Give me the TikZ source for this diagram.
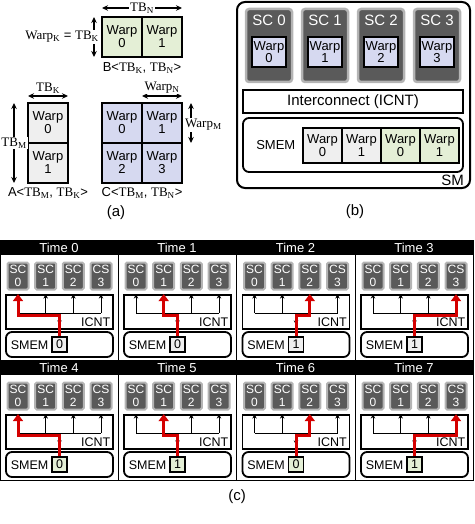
\documentclass[tikz,border=0pt]{standalone}
\usepackage{fontspec}
\setmainfont{Liberation Sans}
\newfontfamily\tbfont{Liberation Serif}
\usetikzlibrary{arrows.meta,positioning,calc}

\definecolor{greencell}{HTML}{E4EFD6}
\definecolor{bluecell}{HTML}{D6D9F0}
\definecolor{graycell}{HTML}{EFEFEF}
\definecolor{scdark}{HTML}{5A5A5A}
\definecolor{scrim}{HTML}{B4B4B4}
\definecolor{flowred}{HTML}{D40000}

\newcommand\tb[1]{{\tbfont TB\textsubscript{#1}}}
\newcommand\warpsub[1]{{\tbfont Warp\textsubscript{#1}}}

\tikzset{
    %Define standard arrow tip
    >={Stealth[length=6pt,width=5.5pt]},
    % tile cells of (a)
    cell/.style={draw, line width=1.6pt, minimum width=40pt, minimum height=40pt,
           inner sep=0pt, outer sep=0pt, align=center,
           font=\fontsize{13}{13}\selectfont},
    % dimension arrows and their labels
    dim/.style={<->, line width=1.3pt},
    dimlbl/.style={fill=white, inner sep=1pt, font=\fontsize{13}{14}\selectfont},
    mtxlbl/.style={inner sep=0pt, font=\fontsize{13}{14}\selectfont},
    caption/.style={inner sep=0pt, font=\fontsize{15}{16}\selectfont},
    % blocks of (b)
    smbox/.style={draw, line width=2pt, rounded corners=8pt,
           minimum width=233pt, minimum height=186pt},
    bigsc/.style={fill=scdark, draw=scrim, line width=2.5pt, rounded corners=3pt,
           minimum width=46pt, minimum height=73pt},
    sctext/.style={text=white, inner sep=0pt, font=\fontsize{15}{16}\selectfont},
    warpb/.style={draw, line width=2pt, fill=bluecell, minimum width=34pt,
           minimum height=30pt, inner sep=0pt, align=center,
           font=\fontsize{13}{12.5}\selectfont},
    icbox/.style={draw, line width=1.5pt, minimum width=220pt, minimum height=23pt,
           font=\fontsize{15}{16}\selectfont},
    smbig/.style={draw, line width=1.8pt, rounded corners=6pt,
           minimum width=220pt, minimum height=54pt},
    smcell/.style={draw, line width=1.5pt, minimum width=39pt, minimum height=35pt,
           inner sep=0pt, outer sep=0pt, align=center,
           font=\fontsize{13}{12.5}\selectfont},
    % time steps of (c)
    timehead/.style={fill=black, text=white, minimum width=118pt, minimum height=15pt,
           inner sep=0pt, font=\fontsize{13}{14}\selectfont},
    scsmall/.style={fill=scdark, draw=scrim, line width=2pt, rounded corners=1.5pt,
           minimum width=21pt, minimum height=27pt, inner sep=0pt, align=center,
           text=white, font=\fontsize{12}{13.5}\selectfont},
    icsmall/.style={draw, line width=1.8pt, minimum width=107pt, minimum height=34pt},
    smsmall/.style={draw, line width=1.8pt, rounded corners=6pt,
           minimum width=107pt, minimum height=25pt},
    smalltext/.style={inner sep=0pt, font=\fontsize{12.5}{13}\selectfont},
    valbox/.style={draw, line width=1.8pt, minimum width=15pt, minimum height=15pt,
           inner sep=0pt, font=\fontsize{12.5}{13}\selectfont},
    bus/.style={line width=0.9pt},
    busarr/.style={->, line width=0.9pt, >={Stealth[length=4.5pt,width=4.5pt]}},
    redarr/.style={draw=flowred, line width=3pt, -{Triangle[length=7pt,width=10pt]}}
}

\begin{document}
\begin{tikzpicture}[x=1pt,y=-1pt]
\useasboundingbox (0,0) rectangle (474,524);

% (a) tiles
\node[cell, fill=greencell] (b0) at (122,37) {Warp\\0};
\node[cell, fill=greencell, right=0pt of b0] (b1) {Warp\\1};
\draw[dim] ([yshift=9pt]b0.north west) -- node[dimlbl] {\tb{N}} ([yshift=9pt]b1.north east);
\draw[dim] ([xshift=-8pt]b0.north west) -- ([xshift=-8pt]b0.south west);
\node[dimlbl, anchor=east] at ([xshift=-2pt]b0.west) {\warpsub{K} = \tb{K}};
\node[mtxlbl] at ([yshift=-11pt]b0.south east) {B<\tb{K}, \tb{N}>};

\node[cell, fill=graycell] (a0) at (48,123) {Warp\\0};
\node[cell, fill=graycell, below=0pt of a0] (a1) {Warp\\1};
\draw[dim] ([yshift=7pt]a0.north west) -- node[dimlbl, above=1pt] {\tb{K}} ([yshift=7pt]a0.north east);
\draw[dim] ([xshift=-14pt]a0.north west) -- node[dimlbl] {\tb{M}} ([xshift=-14pt]a1.south west);
\node[mtxlbl] at ([yshift=-10pt]a1.south) {A<\tb{M}, \tb{K}>};

\node[cell, fill=bluecell] (c0) at (122,123) {Warp\\0};
\node[cell, fill=bluecell, right=0pt of c0] (c1) {Warp\\1};
\node[cell, fill=bluecell, below=0pt of c0] (c2) {Warp\\2};
\node[cell, fill=bluecell, right=0pt of c2] (c3) {Warp\\3};
\draw[dim] ([yshift=7pt]c1.north west) -- node[dimlbl, above=1pt] {\warpsub{N}} ([yshift=7pt]c1.north east);
\draw[dim] ([xshift=9pt]c1.north east) -- ([xshift=9pt]c1.south east);
\node[dimlbl, anchor=west] at ([xshift=2pt,yshift=-2pt]c1.east) {\warpsub{M}};
\node[mtxlbl] at ([yshift=-10pt]c2.south east) {C<\tb{M}, \tb{N}>};

\node[caption] (capa) at (116,213) {(a)};

% (b) SM
\node[smbox] (sm) at (353.5,95) {};
\node[bigsc] (sc0) at (269,45.5) {};
\node[bigsc] (sc1) at (325,45.5) {};
\node[bigsc] (sc2) at (381,45.5) {};
\node[bigsc] (sc3) at (437,45.5) {};
\node[sctext] at ([yshift=-13pt]sc0.north) {SC 0};
\node[sctext] at ([yshift=-13pt]sc1.north) {SC 1};
\node[sctext] at ([yshift=-13pt]sc2.north) {SC 2};
\node[sctext] at ([yshift=-13pt]sc3.north) {SC 3};
\node[warpb] (w0) at ([yshift=-44.5pt]sc0.north) {Warp\\0};
\node[warpb] (w1) at ([yshift=-44.5pt]sc1.north) {Warp\\1};
\node[warpb] (w2) at ([yshift=-44.5pt]sc2.north) {Warp\\2};
\node[warpb] (w3) at ([yshift=-44.5pt]sc3.north) {Warp\\3};
\node[icbox] (icnt) at (353,101.5) {Interconnect (ICNT)};
\node[smbig] (smem) at (353,145) {};
\node[mtxlbl, right=14pt of smem.west] {SMEM};
\node[smcell, fill=graycell] (m0) at (322.5,145.5) {Warp\\0};
\node[smcell, fill=graycell, right=0pt of m0] (m1) {Warp\\1};
\node[smcell, fill=greencell, right=0pt of m1] (m2) {Warp\\0};
\node[smcell, fill=greencell, right=0pt of m2] (m3) {Warp\\1};
\node[caption, anchor=south east] at ([shift={(-7pt,3pt)}]sm.south east) {SM};
\node[caption] (capb) at (355,212) {(b)};

% (c) time steps
\newcommand\timecell[7]{
\node[timehead] (#1h) at (#2+59,#3+7.5) {Time #4};
\node[scsmall] (#1s0) at (#2+18,#3+36) {SC\\0};
\node[scsmall] (#1s1) at (#2+45.7,#3+36) {SC\\1};
\node[scsmall] (#1s2) at (#2+73.3,#3+36) {SC\\2};
\node[scsmall] (#1s3) at (#2+101,#3+36) {CS\\3};
\node[icsmall] (#1ic) at (#2+59.5,#3+72) {};
\node[smalltext, anchor=east] (#1il) at (#2+110.5,#3+82) {ICNT};
\node[smsmall] (#1sm) at (#2+59.5,#3+104.5) {};
\node[smalltext] (#1sl) at (#2+29.5,#3+105) {SMEM};
\node[valbox, fill=#7] (#1v) at (#2+59.5,#3+104.5) {#6};
\coordinate (#1bl) at (#2,#3+73);
\coordinate (#1rl) at (#2,#3+75);
\draw[bus] (#1s0 |- #1bl) -- (#1s3 |- #1bl);
\draw[busarr] (#1s0 |- #1bl) -- (#1s0 |- #1ic.north);
\draw[busarr] (#1s1 |- #1bl) -- (#1s1 |- #1ic.north);
\draw[busarr] (#1s2 |- #1bl) -- (#1s2 |- #1ic.north);
\draw[busarr] (#1s3 |- #1bl) -- (#1s3 |- #1ic.north);
\draw[busarr] (#1v |- #1bl) -- ($(#1v |- #1ic.south)+(0,5pt)$);
\draw[redarr] (#1v.north) |- (#1s#5 |- #1rl) -- (#1s#5 |- #1ic.north);
}

\timecell{ta}{0}{240}{0}{0}{0}{graycell}
\timecell{tb}{118}{240}{1}{1}{0}{graycell}
\timecell{tc}{236.5}{240}{2}{2}{1}{graycell}
\timecell{td}{355}{240}{3}{3}{1}{graycell}
\timecell{te}{0}{360}{4}{0}{0}{greencell}
\timecell{tf}{118}{360}{5}{1}{1}{greencell}
\timecell{tg}{236.5}{360}{6}{2}{0}{greencell}
\timecell{th}{355}{360}{7}{3}{1}{greencell}

\draw[line width=0.8pt] (0.5,240) rectangle (473.5,480);
\draw[line width=0.8pt] (118,240) -- (118,480);
\draw[line width=0.8pt] (236.5,240) -- (236.5,480);
\draw[line width=0.8pt] (355,240) -- (355,480);

\node[caption] (capc) at (237,497) {(c)};
\end{tikzpicture}
\end{document}
